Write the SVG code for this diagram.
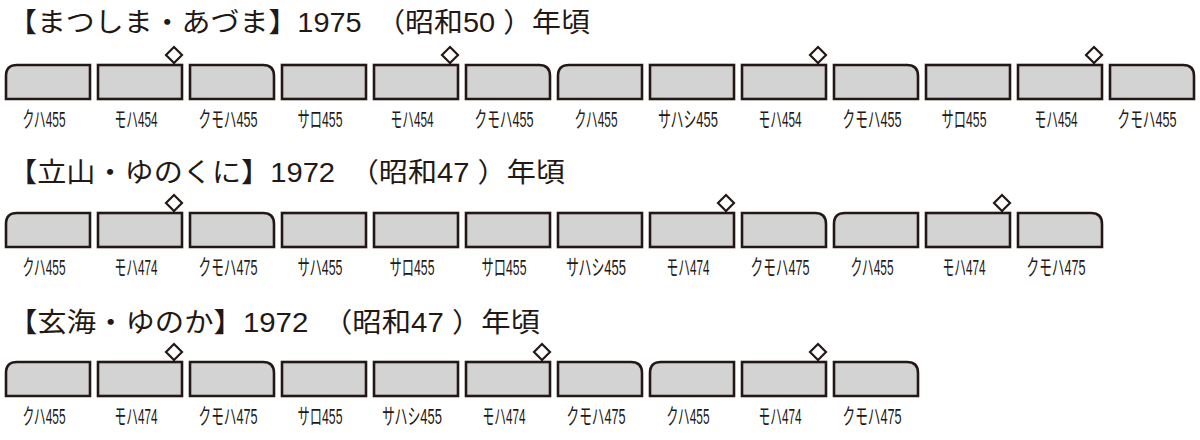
<svg xmlns="http://www.w3.org/2000/svg" width="1200" height="440" viewBox="0 0 1200 440">
<style>
.car{fill:#d3d3d3;stroke:#231815;stroke-width:2.6}
.pan{fill:#fff;stroke:#231815;stroke-width:2.2}
.t{font-family:"Liberation Sans","Noto Sans CJK JP",sans-serif;font-size:27px;fill:#231815}
.l{font-family:"Liberation Sans","Noto Sans CJK JP",sans-serif;font-size:22px;fill:#231815;text-anchor:middle}
</style>
<defs>
<path id="L" class="car" d="M0,34 V11 Q0,0 11,0 H84 V34 Z"/>
<path id="R" class="car" d="M0,34 V0 H73 Q84,0 84,11 V34 Z"/>
<rect id="S" class="car" x="0" y="0" width="84" height="34"/>
<g id="P"><path class="pan" d="M76,-18 L84,-10 L76,-2 L68,-10 Z"/><line x1="76" y1="-2" x2="76" y2="0" stroke="#231815" stroke-width="2"/><rect class="car" x="0" y="0" width="84" height="34"/></g>
</defs>
<g id="title1"><text class="t" x="8" y="32" textLength="582" lengthAdjust="spacingAndGlyphs">【まつしま・あづま】1975　（昭和50 ）年頃</text></g>
<g id="title2"><text class="t" x="8" y="182" textLength="557" lengthAdjust="spacingAndGlyphs">【立山・ゆのくに】1972　（昭和47 ）年頃</text></g>
<g id="title3"><text class="t" x="8" y="332" textLength="532" lengthAdjust="spacingAndGlyphs">【玄海・ゆのか】1972　（昭和47 ）年頃</text></g>
<g id="row1">
<g id="r1c1"><use href="#L" x="6" y="65"/><text class="l" x="44" y="127" textLength="43" lengthAdjust="spacingAndGlyphs">クハ455</text></g>
<g id="r1c2"><use href="#P" x="98" y="65"/><text class="l" x="136" y="127" textLength="43" lengthAdjust="spacingAndGlyphs">モハ454</text></g>
<g id="r1c3"><use href="#R" x="190" y="65"/><text class="l" x="228" y="127" textLength="59" lengthAdjust="spacingAndGlyphs">クモハ455</text></g>
<g id="r1c4"><use href="#S" x="282" y="65"/><text class="l" x="320" y="127" textLength="45" lengthAdjust="spacingAndGlyphs">サロ455</text></g>
<g id="r1c5"><use href="#P" x="374" y="65"/><text class="l" x="412" y="127" textLength="43" lengthAdjust="spacingAndGlyphs">モハ454</text></g>
<g id="r1c6"><use href="#R" x="466" y="65"/><text class="l" x="504" y="127" textLength="59" lengthAdjust="spacingAndGlyphs">クモハ455</text></g>
<g id="r1c7"><use href="#L" x="558" y="65"/><text class="l" x="596" y="127" textLength="43" lengthAdjust="spacingAndGlyphs">クハ455</text></g>
<g id="r1c8"><use href="#S" x="650" y="65"/><text class="l" x="688" y="127" textLength="60" lengthAdjust="spacingAndGlyphs">サハシ455</text></g>
<g id="r1c9"><use href="#P" x="742" y="65"/><text class="l" x="780" y="127" textLength="43" lengthAdjust="spacingAndGlyphs">モハ454</text></g>
<g id="r1c10"><use href="#R" x="834" y="65"/><text class="l" x="872" y="127" textLength="59" lengthAdjust="spacingAndGlyphs">クモハ455</text></g>
<g id="r1c11"><use href="#S" x="926" y="65"/><text class="l" x="964" y="127" textLength="45" lengthAdjust="spacingAndGlyphs">サロ455</text></g>
<g id="r1c12"><use href="#P" x="1018" y="65"/><text class="l" x="1056" y="127" textLength="43" lengthAdjust="spacingAndGlyphs">モハ454</text></g>
<g id="r1c13"><use href="#R" x="1110" y="65"/><text class="l" x="1147" y="127" textLength="59" lengthAdjust="spacingAndGlyphs">クモハ455</text></g>
</g>
<g id="row2">
<g id="r2c1"><use href="#L" x="6" y="213"/><text class="l" x="44" y="275" textLength="43" lengthAdjust="spacingAndGlyphs">クハ455</text></g>
<g id="r2c2"><use href="#P" x="98" y="213"/><text class="l" x="136" y="275" textLength="43" lengthAdjust="spacingAndGlyphs">モハ474</text></g>
<g id="r2c3"><use href="#R" x="190" y="213"/><text class="l" x="228" y="275" textLength="59" lengthAdjust="spacingAndGlyphs">クモハ475</text></g>
<g id="r2c4"><use href="#S" x="282" y="213"/><text class="l" x="320" y="275" textLength="45" lengthAdjust="spacingAndGlyphs">サハ455</text></g>
<g id="r2c5"><use href="#S" x="374" y="213"/><text class="l" x="412" y="275" textLength="45" lengthAdjust="spacingAndGlyphs">サロ455</text></g>
<g id="r2c6"><use href="#S" x="466" y="213"/><text class="l" x="504" y="275" textLength="45" lengthAdjust="spacingAndGlyphs">サロ455</text></g>
<g id="r2c7"><use href="#S" x="558" y="213"/><text class="l" x="596" y="275" textLength="60" lengthAdjust="spacingAndGlyphs">サハシ455</text></g>
<g id="r2c8"><use href="#P" x="650" y="213"/><text class="l" x="688" y="275" textLength="43" lengthAdjust="spacingAndGlyphs">モハ474</text></g>
<g id="r2c9"><use href="#R" x="742" y="213"/><text class="l" x="780" y="275" textLength="59" lengthAdjust="spacingAndGlyphs">クモハ475</text></g>
<g id="r2c10"><use href="#L" x="834" y="213"/><text class="l" x="872" y="275" textLength="43" lengthAdjust="spacingAndGlyphs">クハ455</text></g>
<g id="r2c11"><use href="#P" x="926" y="213"/><text class="l" x="964" y="275" textLength="43" lengthAdjust="spacingAndGlyphs">モハ474</text></g>
<g id="r2c12"><use href="#R" x="1018" y="213"/><text class="l" x="1056" y="275" textLength="59" lengthAdjust="spacingAndGlyphs">クモハ475</text></g>
</g>
<g id="row3">
<g id="r3c1"><use href="#L" x="6" y="362"/><text class="l" x="44" y="424" textLength="43" lengthAdjust="spacingAndGlyphs">クハ455</text></g>
<g id="r3c2"><use href="#P" x="98" y="362"/><text class="l" x="136" y="424" textLength="43" lengthAdjust="spacingAndGlyphs">モハ474</text></g>
<g id="r3c3"><use href="#R" x="190" y="362"/><text class="l" x="228" y="424" textLength="59" lengthAdjust="spacingAndGlyphs">クモハ475</text></g>
<g id="r3c4"><use href="#S" x="282" y="362"/><text class="l" x="320" y="424" textLength="45" lengthAdjust="spacingAndGlyphs">サロ455</text></g>
<g id="r3c5"><use href="#S" x="374" y="362"/><text class="l" x="412" y="424" textLength="60" lengthAdjust="spacingAndGlyphs">サハシ455</text></g>
<g id="r3c6"><use href="#P" x="466" y="362"/><text class="l" x="504" y="424" textLength="43" lengthAdjust="spacingAndGlyphs">モハ474</text></g>
<g id="r3c7"><use href="#R" x="558" y="362"/><text class="l" x="596" y="424" textLength="59" lengthAdjust="spacingAndGlyphs">クモハ475</text></g>
<g id="r3c8"><use href="#L" x="650" y="362"/><text class="l" x="688" y="424" textLength="43" lengthAdjust="spacingAndGlyphs">クハ455</text></g>
<g id="r3c9"><use href="#P" x="742" y="362"/><text class="l" x="780" y="424" textLength="43" lengthAdjust="spacingAndGlyphs">モハ474</text></g>
<g id="r3c10"><use href="#R" x="834" y="362"/><text class="l" x="872" y="424" textLength="59" lengthAdjust="spacingAndGlyphs">クモハ475</text></g>
</g>
<g id="connectors"/>
</svg>
